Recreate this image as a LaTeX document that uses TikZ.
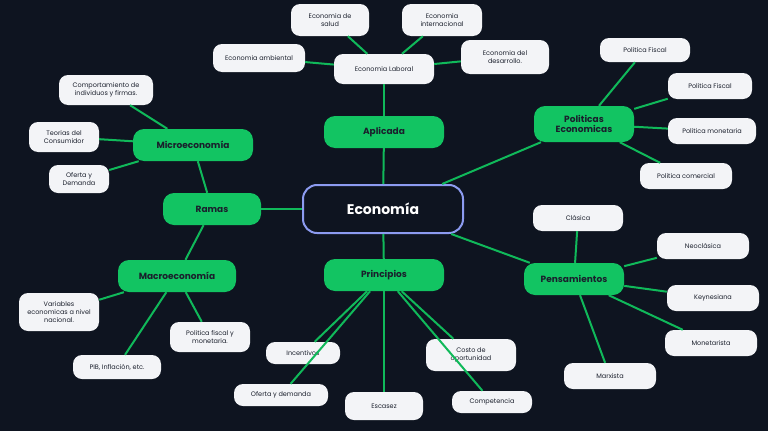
\documentclass[tikz,border=0pt]{standalone}
\usepackage{fontspec}
\setmainfont{Poppins}
\definecolor{bg}{HTML}{0E1420}
\definecolor{gr}{HTML}{12C462}
\definecolor{ln}{HTML}{10B95A}
\definecolor{wh}{HTML}{F3F4F7}
\definecolor{tx}{HTML}{1A1F2C}
\definecolor{bd}{HTML}{8C9BF0}
\tikzset{
 gn/.style={fill=gr,rounded corners=11pt,minimum height=32pt,font=\fontsize{9}{10}\selectfont\bfseries,text=tx,align=center,inner sep=2pt},
 wn/.style={fill=wh,rounded corners=9pt,minimum height=24pt,font=\fontsize{6.5}{8}\selectfont,text=tx,align=center,inner sep=2pt},
 ed/.style={ln,line width=2pt}
}
\begin{document}
\begin{tikzpicture}[x=1pt,y=-1pt]
\fill[bg] (0,0) rectangle (768,431);
\useasboundingbox (0,0) rectangle (768,431);
\node[draw=bd,line width=2pt,fill=bg,rounded corners=14pt,minimum width=160pt,minimum height=48pt,text=white,font=\fontsize{14}{16}\selectfont\bfseries] (eco) at (383,209) {Economía};
\node[gn,minimum width=120pt] (apl) at (384,132) {Aplicada};
\node[wn,minimum width=100pt,minimum height=30pt] (lab) at (384,69) {Economia Laboral};
\node[wn,minimum width=78pt,minimum height=32pt] (sal) at (330,20) {Economia de\\salud};
\node[wn,minimum width=80pt,minimum height=32pt] (int) at (442,20) {Economia\\internacional};
\node[wn,minimum width=92pt,minimum height=28pt] (amb) at (259,58) {Economia ambiental};
\node[wn,minimum width=88pt,minimum height=34pt] (des) at (505,57) {Economia del\\desarrollo.};
\node[gn,minimum width=100pt,minimum height=36pt] (pol) at (584,124) {Politicas\\Economicas};
\node[wn,minimum width=90pt] (pf1) at (645,50) {Politica Fiscal};
\node[wn,minimum width=84pt,minimum height=26pt] (pf2) at (710,86) {Politica Fiscal};
\node[wn,minimum width=88pt,minimum height=26pt] (pm) at (712,131) {Politica monetaria};
\node[wn,minimum width=92pt,minimum height=26pt] (pc) at (686,176) {Politica comercial};
\node[gn,minimum width=100pt] (pen) at (574,279) {Pensamientos};
\node[wn,minimum width=90pt,minimum height=26pt] (cla) at (578,218) {Clásica};
\node[wn,minimum width=92pt,minimum height=26pt] (neo) at (703,246) {Neoclásica};
\node[wn,minimum width=92pt,minimum height=26pt] (key) at (713,298) {Keynesiana};
\node[wn,minimum width=92pt,minimum height=26pt] (mon) at (711,343) {Monetarista};
\node[wn,minimum width=92pt,minimum height=26pt] (mar) at (610,376) {Marxista};
\node[gn,minimum width=120pt] (pri) at (384,275) {Principios};
\node[wn,minimum width=74pt,minimum height=22pt] (inc) at (303,353) {Incentivos};
\node[wn,minimum width=94pt,minimum height=22pt] (ofd) at (281,395) {Oferta y demanda};
\node[wn,minimum width=78pt,minimum height=28pt] (esc) at (384,406) {Escasez};
\node[wn,minimum width=90pt,minimum height=32pt] (cos) at (471,355) {Costo de\\oportunidad};
\node[wn,minimum width=80pt,minimum height=22pt] (com) at (492,402) {Competencia};
\node[gn,minimum width=98pt] (ram) at (212,209) {Ramas};
\node[gn,minimum width=120pt] (mic) at (193,145) {Microeconomía};
\node[gn,minimum width=118pt] (mac) at (177,276) {Macroeconomía};
\node[wn,minimum width=94pt,minimum height=30pt] (cmp) at (106,90) {Comportamiento de\\individuos y firmas.};
\node[wn,minimum width=70pt,minimum height=30pt] (teo) at (64,137) {Teorias del\\Consumidor};
\node[wn,minimum width=60pt,minimum height=28pt] (oyd) at (79,179) {Oferta y\\Demanda};
\node[wn,minimum width=80pt,minimum height=38pt] (var) at (59,312) {Variables\\economicas a nivel\\nacional.};
\node[wn,minimum width=80pt,minimum height=30pt] (pfm) at (210,337) {Politica fiscal y\\monetaria.};
\node[wn,minimum width=88pt,minimum height=24pt] (pib) at (117,367) {PIB, Inflación, etc.};
\foreach \a/\b in {eco/apl,eco/pri,eco/ram,eco/pol,eco/pen,apl/lab,lab/sal,lab/int,lab/amb,lab/des,pol/pf1,pol/pf2,pol/pm,pol/pc,pen/cla,pen/neo,pen/key,pen/mon,pen/mar,pri/inc,pri/ofd,pri/esc,pri/cos,pri/com,ram/mic,ram/mac,mic/cmp,mic/teo,mic/oyd,mac/var,mac/pfm,mac/pib}
  \draw[ed] (\a) -- (\b);
\end{tikzpicture}
\end{document}
